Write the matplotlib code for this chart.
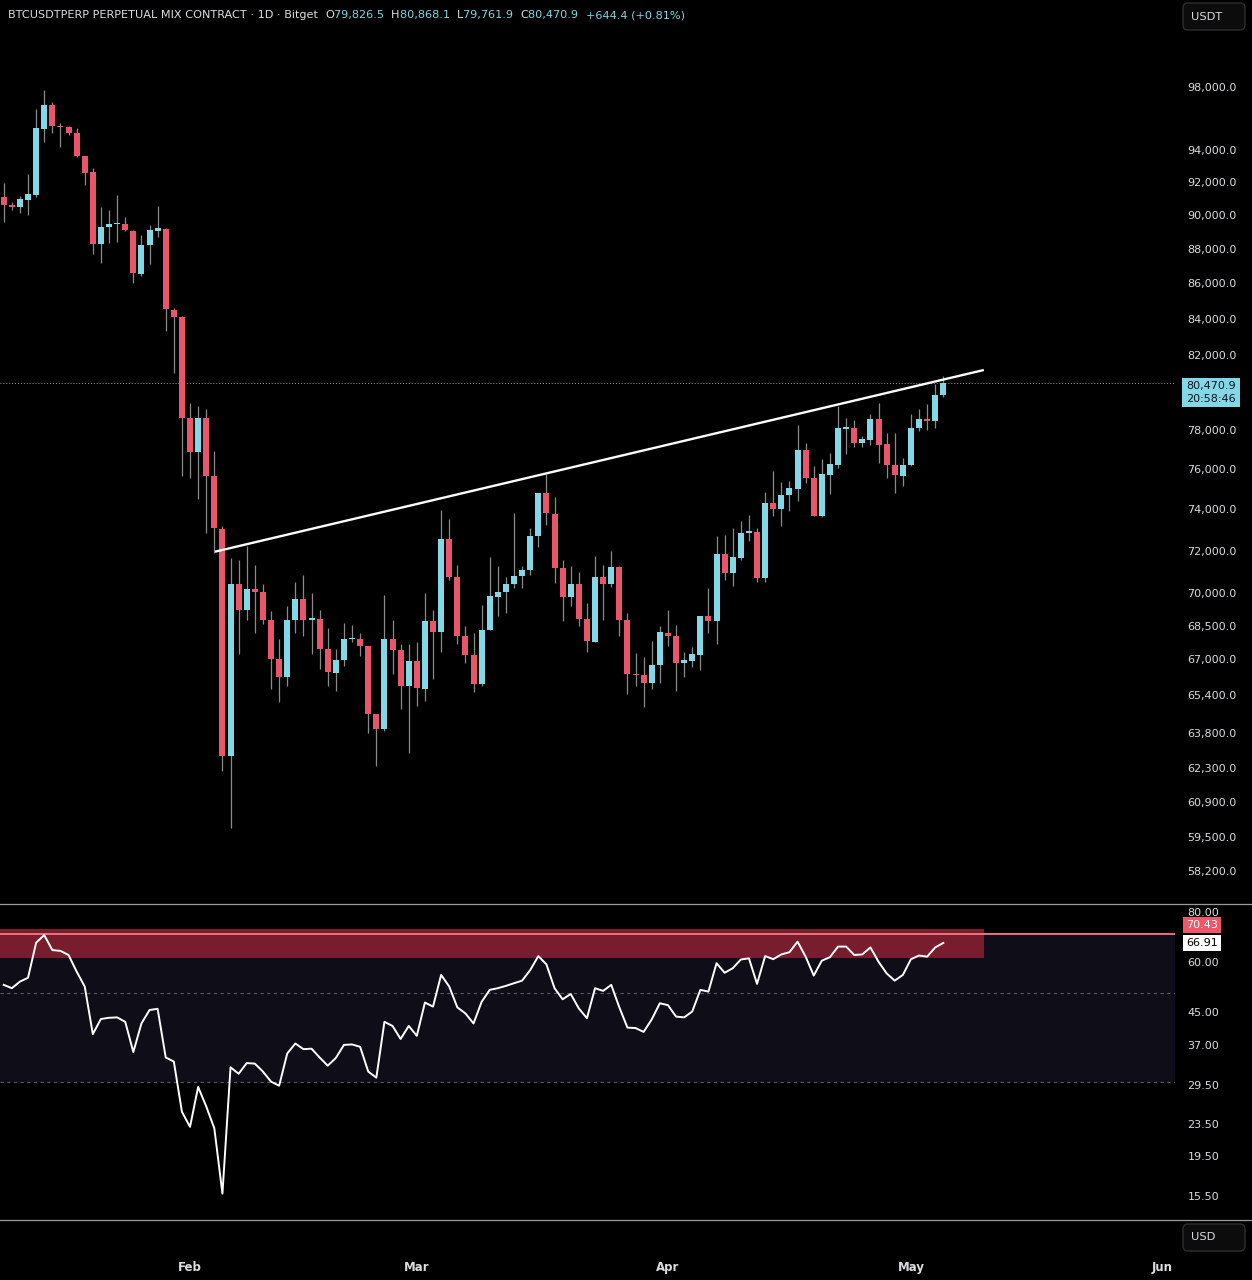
import matplotlib
matplotlib.use('Agg')
import matplotlib.pyplot as plt
import matplotlib.dates as mdates
import matplotlib.ticker as mticker
from matplotlib.patches import FancyBboxPatch
from matplotlib.lines import Line2D
import numpy as np
import pandas as pd

# ---- daily candles, BTCUSDTPERP (Bitget), 2026-01-09 .. 2026-05-05 ----
start_date = '2026-01-09'
opens = [91070, 90620, 90460, 90920, 91230, 95300, 96830, 95490, 95410, 95070,
         93580, 92590, 88300, 89300, 89440, 89460, 89060, 86570, 88240, 89060,
         89160, 84500, 84130, 78620, 76870, 78620, 75660, 73060, 62810, 70420,
         69200, 70200, 70030, 68740, 67000, 66210, 68770, 69710, 68740, 68800,
         67440, 66380, 66930, 67880, 67880, 67560, 64580, 63930, 67910, 67410,
         65790, 66900, 65670, 68710, 68220, 72560, 70770, 68030, 67180, 65880,
         68320, 69830, 70060, 70410, 70800, 71090, 72690, 74800, 73800, 71170,
         69830, 70420, 68800, 67760, 70770, 70420, 71230, 68740, 66330, 66290,
         65930, 66730, 68180, 68030, 66820, 66900, 67190, 68920, 68690, 71840,
         70930, 71650, 72830, 72920, 70700, 74300, 74000, 74700, 75030, 76990,
         75580, 73670, 75710, 76200, 78050, 78140, 77360, 77500, 78570, 77270,
         76220, 75660, 76220, 78140, 78610, 78480, 79826.5]
highs = [91940, 90800, 91160, 92490, 96580, 97800, 97050, 95700, 95510, 95360,
         93630, 92840, 90460, 90300, 91210, 89860, 89100, 88820, 89400, 90540,
         89200, 84630, 84170, 79450, 79270, 79100, 76930, 73190, 71650, 71570,
         72210, 71340, 70420, 69150, 67880, 69390, 70530, 70850, 69990, 69230,
         68400, 67440, 68620, 68540, 68180, 67590, 64600, 69900, 68770, 67660,
         67660, 67740, 69990, 69230, 73970, 73510, 71340, 68470, 68150, 69460,
         71700, 71260, 70770, 73840, 71260, 73110, 74830, 75750, 74630, 71570,
         71260, 71000, 69540, 71730, 71340, 71970, 71290, 69080, 67270, 67080,
         67800, 68500, 69230, 68540, 67330, 67520, 68960, 70220, 72720, 72770,
         73110, 73430, 73750, 73110, 74860, 75910, 75360, 75410, 78260, 77360,
         76170, 76510, 76850, 79270, 78660, 78520, 77700, 78830, 79450, 77880,
         77840, 76600, 78830, 79130, 79360, 80420, 80868.1]
lows = [89580, 90300, 90140, 90000, 91090, 94500, 95070, 94190, 94920, 93540,
        91820, 87710, 87160, 88370, 88430, 89060, 86040, 86420, 87120, 88720,
        83330, 81010, 75660, 75580, 74500, 72870, 71890, 62190, 59890, 67220,
        68770, 68180, 68590, 65670, 65090, 65810, 68180, 68030, 67220, 66560,
        65810, 65590, 66680, 67740, 67150, 63790, 62400, 63860, 66330, 64790,
        62950, 64930, 65150, 66110, 67300, 70610, 67670, 66820, 65520, 65810,
        68290, 68920, 69080, 70220, 70220, 70850, 72180, 73260, 70450, 68690,
        69390, 68470, 67300, 67740, 68770, 70290, 68030, 65450, 65810, 64880,
        65670, 65930, 67590, 65590, 66190, 66630, 66520, 68180, 67660, 70610,
        70330, 71570, 72450, 70520, 70520, 73670, 73190, 73920, 74410, 75330,
        73670, 73640, 74750, 76090, 76770, 77150, 77150, 77220, 76340, 75580,
        74830, 75160, 76170, 77960, 78010, 78140, 79761.9]
closes = [90600, 90490, 90960, 91270, 95370, 96830, 95490, 95400, 95030, 93580,
          92550, 88300, 89300, 89460, 89540, 89100, 86610, 88240, 89100, 89200,
          84540, 84130, 78660, 76870, 78620, 75660, 73110, 62810, 70420, 69200,
          70200, 70030, 68740, 67000, 66210, 68770, 69710, 68770, 68830, 67440,
          66410, 66930, 67910, 67940, 67560, 64580, 63930, 67910, 67410, 65790,
          66900, 65700, 68710, 68220, 72560, 70770, 68030, 67180, 65880, 68320,
          69860, 70060, 70410, 70800, 71090, 72690, 74800, 73840, 71170, 69830,
          70420, 68800, 67810, 70770, 70420, 71230, 68740, 66330, 66290, 65930,
          66730, 68200, 68030, 66820, 66930, 67220, 68950, 68690, 71840, 70930,
          71680, 72870, 72950, 70700, 74330, 74000, 74700, 75080, 76990, 75580,
          73700, 75750, 76260, 78100, 78170, 77360, 77530, 78570, 77240, 76220,
          75700, 76220, 78140, 78610, 78480, 79830, 80470.9]

# RSI(14) per candle
rsi = [52.5, 51.5, 53.5, 54.7, 67.0, 70.0, 64.2, 63.9, 62.4, 56.7,
       52.0, 39.5, 43.1, 43.4, 43.5, 42.4, 35.6, 42.0, 45.4, 45.7,
       34.5, 33.7, 25.2, 23.1, 29.1, 26.0, 22.9, 15.7, 32.6, 31.4,
       33.4, 33.3, 31.8, 30.0, 29.3, 35.3, 37.4, 36.2, 36.3, 34.5,
       32.9, 34.4, 37.1, 37.2, 36.7, 31.8, 30.7, 42.4, 41.4, 38.4,
       41.4, 39.1, 47.4, 46.3, 55.6, 52.0, 46.1, 44.5, 42.0, 47.6,
       51.0, 51.5, 52.2, 53.0, 53.8, 57.2, 62.0, 59.1, 51.5, 48.3,
       49.8, 45.8, 43.3, 51.5, 50.7, 52.5, 46.1, 41.0, 40.9, 40.0,
       43.0, 47.2, 46.7, 43.7, 43.5, 45.0, 51.0, 50.5, 59.5, 56.3,
       57.8, 60.8, 61.2, 52.8, 62.0, 60.9, 62.6, 63.4, 67.4, 61.8,
       55.4, 60.4, 61.6, 65.5, 65.5, 62.4, 62.6, 65.2, 60.0, 56.1,
       53.8, 55.6, 60.9, 62.2, 61.8, 65.2, 66.91]

# header values
change = 644.4
change_pct = 0.81
countdown = '20:58:46'

# drawings on the chart
trend_dates = ['2026-02-04 02:00', '2026-05-10 00:00']
trend_prices = [71950, 81190]
rsi_box_end = '2026-05-10'
rsi_box_range = [61.2, 72.4]
rsi_hline = 70.43
rsi_levels = [50, 30]
rsi_band = [30, 70]

price_ticks = [98000, 94000, 92000, 90000, 88000, 86000, 84000, 82000, 78000,
               76000, 74000, 72000, 70000, 68500, 67000, 65400, 63800, 62300,
               60900, 59500, 58200]
rsi_ticks = [80, 60, 45, 37, 29.5, 23.5, 19.5, 15.5]
month_ticks = ['2026-02-01', '2026-03-01', '2026-04-01', '2026-05-01', '2026-06-01']
month_labels = ['Feb', 'Mar', 'Apr', 'May', 'Jun']

UP = '#82d8e6'
DOWN = '#e9566b'
WICK = '#8a8a8a'
TXT = '#dcdde0'

W, H = 1252, 1280


def fx(x):
    return x / W


def fy(y):
    return 1 - y / H


dates = pd.date_range(start_date, periods=len(opens), freq='D')
xd = mdates.date2num(dates)
o = np.array(opens, dtype=float)
h = np.array(highs, dtype=float)
l = np.array(lows, dtype=float)
c = np.array(closes, dtype=float)
up = c >= o

fig = plt.figure(figsize=(W / 100, H / 100), dpi=100, facecolor='black')
ax = fig.add_axes([0, fy(903), fx(1175), fy(0) - fy(903)], facecolor='black')
ax2 = fig.add_axes([0, fy(1219), fx(1175), fy(904) - fy(1219)], facecolor='black',
                   sharex=ax)

feb1 = mdates.date2num(pd.Timestamp('2026-02-01'))
ax.set_xlim(feb1 - 23.46, feb1 + 121.6)

# ---- price pane ----
ax.set_yscale('log')
ax.set_ylim(56962, 103836)
ax.vlines(xd, l, h, color=WICK, linewidth=0.9, zorder=2)
body_lo = np.minimum(o, c)
body_h = np.maximum(np.abs(c - o), body_lo * 0.0009)
ax.bar(xd, body_h, bottom=body_lo, width=0.74,
       color=np.where(up, UP, DOWN), linewidth=0, zorder=3)

ax.plot(mdates.date2num(pd.to_datetime(trend_dates)), trend_prices,
        color='white', linewidth=1.7, solid_capstyle='butt', zorder=4)
ax.axhline(c[-1], color='#9aa0a6', linewidth=0.7, linestyle=(0, (1, 2)), zorder=1)

ax.set_yticks(price_ticks)
ax.set_yticklabels([f'{v:,.1f}' for v in price_ticks])
ax.yaxis.set_minor_locator(mticker.NullLocator())
ax.yaxis.tick_right()
ax.tick_params(axis='y', length=0, pad=9, labelsize=8, labelcolor=TXT)
ax.tick_params(axis='x', length=0, labelbottom=False)
for s in ax.spines.values():
    s.set_visible(False)

# ---- RSI pane ----
ax2.set_yscale('log')
ax2.set_ylim(13.56, 83.79)
ax2.axhspan(rsi_band[0], rsi_band[1], color='#0f0d17', linewidth=0, zorder=0)
box_end = mdates.date2num(pd.Timestamp(rsi_box_end))
ax2.fill_between([feb1 - 23.46, box_end], rsi_box_range[0], rsi_box_range[1],
                 color='#771d2e', linewidth=0, zorder=1)
ax2.axhline(rsi_hline, color='#f0707e', linewidth=1.4, zorder=2)
for lvl in rsi_levels:
    ax2.axhline(lvl, color='#5a5a60', linewidth=0.8, linestyle=(0, (3, 3)), zorder=1)
ax2.plot(xd, rsi, color='white', linewidth=1.4, zorder=3)

ax2.set_yticks(rsi_ticks)
ax2.set_yticklabels([f'{v:.2f}' for v in rsi_ticks])
ax2.yaxis.set_minor_locator(mticker.NullLocator())
ax2.yaxis.tick_right()
ax2.tick_params(axis='y', length=0, pad=9, labelsize=8, labelcolor=TXT)

ax2.set_xticks(mdates.date2num(pd.to_datetime(month_ticks)))
ax2.set_xticklabels(month_labels)
ax2.tick_params(axis='x', length=0, pad=30.5, labelsize=8.5, labelcolor=TXT)
for lab in ax2.get_xticklabels():
    lab.set_fontweight('bold')
for s in ax2.spines.values():
    s.set_visible(False)

# pane separators
for yy in (903.5, 1219.5):
    fig.add_artist(Line2D([0, 1], [fy(yy), fy(yy)], transform=fig.transFigure,
                          color='#9a9a9a', linewidth=0.9))

# ---- header ----
hdr_y = fy(15)
parts = [('BTCUSDTPERP PERPETUAL MIX CONTRACT · 1D · Bitget  ', TXT),
         ('O', TXT), (f'{o[-1]:,.1f}  ', UP),
         ('H', TXT), (f'{h[-1]:,.1f}  ', UP),
         ('L', TXT), (f'{l[-1]:,.1f}  ', UP),
         ('C', TXT), (f'{c[-1]:,.1f}  ', UP),
         (f'+{change:.1f} (+{change_pct:.2f}%)', UP)]
renderer = fig.canvas.get_renderer()
xpos = fx(8)
for txt, col in parts:
    t = fig.text(xpos, hdr_y, txt, color=col, fontsize=8.1, va='center', ha='left')
    bb = t.get_window_extent(renderer=renderer)
    xpos += bb.width / W

# ---- price scale tags ----
fig.text(fx(1211), fy(392.5), f'{c[-1]:,.1f}\n{countdown}', color='#10141c',
         fontsize=8, ha='center', va='center', linespacing=1.25,
         bbox=dict(boxstyle='square,pad=0.35', facecolor=UP, edgecolor='none'))
fig.text(fx(1202), fy(925), f'{rsi_hline:.2f}', color='white', fontsize=8,
         ha='center', va='center',
         bbox=dict(boxstyle='square,pad=0.3', facecolor='#f0566a', edgecolor='none'))
fig.text(fx(1202), fy(943), f'{rsi[-1]:.2f}', color='black', fontsize=8,
         ha='center', va='center',
         bbox=dict(boxstyle='square,pad=0.3', facecolor='white', edgecolor='none'))

for (y0, label) in ((3, 'USDT'), (1224, 'USD')):
    fig.add_artist(FancyBboxPatch((fx(1183), fy(y0 + 27)), fx(62), 27 / H,
                                  boxstyle='round,pad=0,rounding_size=0.004',
                                  transform=fig.transFigure, facecolor='#0c0c0c',
                                  edgecolor='#2e2e2e', linewidth=1))
    fig.text(fx(1191), fy(y0 + 13.5), label, color=TXT, fontsize=8.2,
             ha='left', va='center')

fig.savefig('out.png', dpi=100, facecolor='black')
